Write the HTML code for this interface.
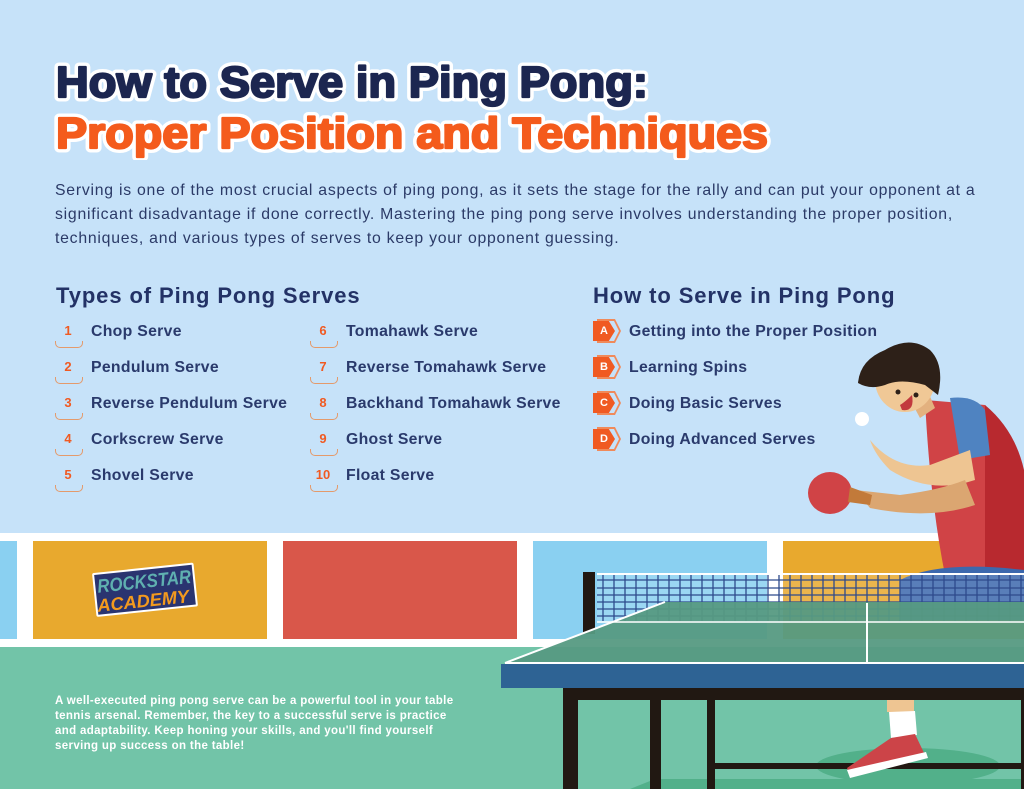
<!DOCTYPE html>
<html><head><meta charset="utf-8"><style>
*{margin:0;padding:0;box-sizing:border-box}
body{width:1024px;height:789px;overflow:hidden;position:relative;background:#c6e2f9;font-family:"Liberation Sans",sans-serif;color:#25356a}
.abs{position:absolute}
.p{left:55px;top:179px;font-size:15.8px;line-height:24px;color:#2b3a67;white-space:nowrap;letter-spacing:0.75px}
h2{position:absolute;font-size:22px;font-weight:bold;color:#233266;letter-spacing:0.9px}
.it{position:absolute;font-size:15.8px;font-weight:bold;color:#2a3a6c;white-space:nowrap;letter-spacing:0.3px}
.num{position:absolute;width:26px;text-align:center;font-size:13px;font-weight:bold;color:#f05a22}
.num:after{content:"";position:absolute;left:0;top:18px;width:26px;height:6px;border:1.5px solid #e49a6b;border-top:none;border-radius:0 0 5px 5px}
.let{position:absolute;width:22px;height:20px;background:#f05a22;color:#fff;font-size:11px;font-weight:bold;text-align:center;line-height:20px;clip-path:polygon(0 0,72% 0,100% 50%,72% 100%,0 100%)}
.letb{position:absolute;width:24px;height:24px;background:#f08a5a;clip-path:polygon(0 0,75% 0,100% 50%,75% 100%,0 100%,0 0,2px 2px,2px calc(100% - 2px),calc(75% - 1px) calc(100% - 2px),calc(100% - 2px) 50%,calc(75% - 1px) 2px,2px 2px)}
</style></head><body>
<svg class="abs" style="left:0;top:0" width="1024" height="160">
<g font-family="Liberation Sans" font-weight="bold" font-size="44" stroke-linejoin="round">
<text x="56" y="97" fill="#1c2650" stroke="#fff" stroke-width="9" textLength="592" lengthAdjust="spacingAndGlyphs">How to Serve in Ping Pong:</text>
<text x="56" y="148" fill="#f45b1c" stroke="#fff" stroke-width="9" textLength="712" lengthAdjust="spacingAndGlyphs">Proper Position and Techniques</text>
<text x="56" y="97" fill="#1c2650" stroke="#1c2650" stroke-width="2.2" textLength="592" lengthAdjust="spacingAndGlyphs">How to Serve in Ping Pong:</text>
<text x="56" y="148" fill="#f45b1c" stroke="#f45b1c" stroke-width="2.2" textLength="712" lengthAdjust="spacingAndGlyphs">Proper Position and Techniques</text>
</g></svg>
<div class="abs p">Serving is one of the most crucial aspects of ping pong, as it sets the stage for the rally and can put your opponent at a<br>significant disadvantage if done correctly. Mastering the ping pong serve involves understanding the proper position,<br>techniques, and various types of serves to keep your opponent guessing.</div>
<h2 style="left:56px;top:283px">Types of Ping Pong Serves</h2>
<h2 style="left:593px;top:283px">How to Serve in Ping Pong</h2>

<div class="num" style="left:55px;top:323px">1</div><div class="it" style="left:91px;top:323px">Chop Serve</div>
<div class="num" style="left:55px;top:359px">2</div><div class="it" style="left:91px;top:359px">Pendulum Serve</div>
<div class="num" style="left:55px;top:395px">3</div><div class="it" style="left:91px;top:395px">Reverse Pendulum Serve</div>
<div class="num" style="left:55px;top:431px">4</div><div class="it" style="left:91px;top:431px">Corkscrew Serve</div>
<div class="num" style="left:55px;top:467px">5</div><div class="it" style="left:91px;top:467px">Shovel Serve</div>
<div class="num" style="left:310px;top:323px">6</div><div class="it" style="left:346px;top:323px">Tomahawk Serve</div>
<div class="num" style="left:310px;top:359px">7</div><div class="it" style="left:346px;top:359px">Reverse Tomahawk Serve</div>
<div class="num" style="left:310px;top:395px">8</div><div class="it" style="left:346px;top:395px">Backhand Tomahawk Serve</div>
<div class="num" style="left:310px;top:431px">9</div><div class="it" style="left:346px;top:431px">Ghost Serve</div>
<div class="num" style="left:310px;top:467px">10</div><div class="it" style="left:346px;top:467px">Float Serve</div>

<div class="letb" style="left:597px;top:319px"></div><div class="let" style="left:593px;top:321px">A</div><div class="it" style="left:629px;top:323px">Getting into the Proper Position</div>
<div class="letb" style="left:597px;top:355px"></div><div class="let" style="left:593px;top:357px">B</div><div class="it" style="left:629px;top:359px">Learning Spins</div>
<div class="letb" style="left:597px;top:391px"></div><div class="let" style="left:593px;top:393px">C</div><div class="it" style="left:629px;top:395px">Doing Basic Serves</div>
<div class="letb" style="left:597px;top:427px"></div><div class="let" style="left:593px;top:429px">D</div><div class="it" style="left:629px;top:431px">Doing Advanced Serves</div>

<svg class="abs" style="left:0;top:0" width="1024" height="789">
<rect x="0" y="533" width="1024" height="115" fill="#fff"/>
<rect x="0" y="541" width="17" height="98" fill="#8ad0f1"/>
<rect x="33" y="541" width="234" height="98" fill="#e8a92e"/>
<rect x="283" y="541" width="234" height="98" fill="#d9574a"/>
<rect x="533" y="541" width="234" height="98" fill="#8ad0f1"/>
<rect x="783" y="541" width="241" height="98" fill="#e8a92e"/>
<rect x="0" y="647" width="1024" height="142" fill="#72c4a8"/>
<!-- logo -->
<g transform="rotate(-6 143 590)">
<rect x="94" y="568" width="102" height="44" fill="#fff" rx="2"/>
<rect x="96" y="570" width="98" height="40" fill="#2a3470"/>
<text x="98" y="588" font-family="Liberation Sans" font-weight="bold" font-style="italic" font-size="19" fill="#5fb0b0" textLength="94" lengthAdjust="spacingAndGlyphs">ROCKSTAR</text>
<text x="96" y="607" font-family="Liberation Sans" font-weight="bold" font-style="italic" font-size="18" fill="#f39a1e" textLength="92" lengthAdjust="spacingAndGlyphs">ACADEMY</text>
</g>
<!-- shadow -->
<ellipse cx="908" cy="766" rx="92" ry="18" fill="#52b08a"/>
<polygon points="630,789 655,779 1024,779 1024,789" fill="#52b08a"/>
<!-- player body -->
<path d="M925,400 L985,405 Q1010,440 1024,500 L1024,580 L945,575 Q930,500 925,400Z" fill="#d04346"/>
<path d="M985,405 Q1015,430 1024,470 L1024,580 L985,575Z" fill="#b8292f"/>
<path d="M950,398 Q975,395 985,410 L990,455 L960,460 Z" fill="#4f83c1"/>
<path d="M900,580 Q940,560 1024,570 L1024,620 L900,620Z" fill="#3c68ad"/>
<!-- arms -->
<path d="M870,440 Q895,470 930,465 L970,450 L975,480 Q930,495 890,470 Q875,455 870,440Z" fill="#eec592"/>
<path d="M855,490 L900,495 Q940,490 965,480 L975,505 Q930,520 870,508Z" fill="#dba671"/>
<!-- paddle -->
<ellipse cx="830" cy="493" rx="22" ry="21" fill="#d04346"/>
<path d="M850,487 L872,495 L870,505 L848,502Z" fill="#c27a3a"/>
<!-- head -->
<path d="M905,390 L920,418 L935,408 L925,385Z" fill="#e3b17f"/>
<ellipse cx="905" cy="380" rx="30" ry="32" fill="#f0c896"/>
<path d="M858,383 Q860,360 885,350 Q910,335 930,350 Q945,365 938,395 L925,385 Q900,378 885,385 Q870,390 858,383Z" fill="#2d2018"/>
<path d="M902,410 Q915,412 912,395 Q905,402 900,405Z" fill="#c23a3e"/>
<circle cx="898" cy="392" r="2.5" fill="#2d2018"/><circle cx="916" cy="395" r="2.5" fill="#2d2018"/>
<circle cx="862" cy="419" r="7" fill="#fff"/>
<!-- net -->
<rect x="583" y="572" width="12" height="62" fill="#211812"/>
<rect x="597" y="574" width="427" height="48" fill="#ffffff" fill-opacity="0.15"/>
<g stroke="#2e4a8c" stroke-width="1.2">
<path d="M597,580H1024M597,588H1024M597,595H1024M597,602H1024M597,609H1024M597,616H1024"/>
</g>
<path d="M603,575V621M614,575V621M625,575V621M636,575V621M647,575V621M658,575V621M669,575V621M680,575V621M691,575V621M702,575V621M713,575V621M724,575V621M735,575V621M746,575V621M757,575V621M768,575V621M779,575V621M790,575V621M801,575V621M812,575V621M823,575V621M834,575V621M845,575V621M856,575V621M867,575V621M878,575V621M889,575V621M900,575V621M911,575V621M922,575V621M933,575V621M944,575V621M955,575V621M966,575V621M977,575V621M988,575V621M999,575V621M1010,575V621M1021,575V621" stroke="#2e4a8c" stroke-width="1.3"/>
<path d="M597,574H1024" stroke="#fff" stroke-width="2"/>
<!-- table surface -->
<polygon points="505,664 665,602 1024,602 1024,664" fill="#569a82" fill-opacity="0.95"/>
<path d="M505,663 L665,602" stroke="#fff" stroke-width="2"/>
<path d="M505,663 H1024" stroke="#fff" stroke-width="2"/>
<path d="M867,603 V663" stroke="#fff" stroke-width="2"/>
<path d="M597,622H1024" stroke="#fff" stroke-width="1.5"/>
<rect x="501" y="664" width="523" height="24" fill="#2e6394"/>
<g fill="#211812">
<rect x="563" y="688" width="461" height="12"/>
<rect x="563" y="688" width="15" height="101"/>
<rect x="650" y="700" width="11" height="89"/>
<rect x="707" y="700" width="8" height="89"/>
<rect x="715" y="763" width="309" height="6"/>
<rect x="1021" y="700" width="3" height="89"/>
</g>
<!-- leg -->
<rect x="887" y="700" width="27" height="12" fill="#eec592"/>
<path d="M889,712 L915,711 L917,735 L891,738Z" fill="#fff"/>
<path d="M891,738 L915,734 L925,755 L850,776 L847,768Z" fill="#cc4448"/>
<path d="M847,770 L926,752 L928,758 L850,778Z" fill="#fff"/>
</svg>
<div class="abs" style="left:55px;top:694px;font-size:11.5px;line-height:15px;color:#fff;font-weight:bold;white-space:nowrap;letter-spacing:0.35px">A well-executed ping pong serve can be a powerful tool in your table<br>tennis arsenal. Remember, the key to a successful serve is practice<br>and adaptability. Keep honing your skills, and you'll find yourself<br>serving up success on the table!</div>
</body></html>
